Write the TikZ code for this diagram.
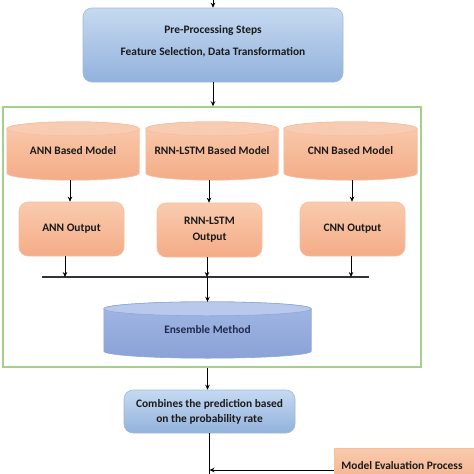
\documentclass[tikz,border=0pt]{standalone}
\usepackage{fontspec}
\setmainfont{Carlito}
\usetikzlibrary{arrows.meta,calc,backgrounds}
\definecolor{bl1}{HTML}{C6D9F1}
\definecolor{bl2}{HTML}{92B2DC}
\definecolor{bl3}{HTML}{9DB8DD}
\definecolor{or1}{HTML}{F9CBAE}
\definecolor{or2}{HTML}{F4AC86}
\definecolor{or3}{HTML}{F6BE9F}
\definecolor{orcap}{HTML}{F8CCB2}
\definecolor{en1}{HTML}{A2B7E3}
\definecolor{en2}{HTML}{8AA2D7}
\definecolor{encap}{HTML}{B8C9EC}
\definecolor{en3}{HTML}{90A7D9}
\definecolor{entxt}{HTML}{1F2A4D}
\definecolor{grn}{HTML}{A5D08A}
\definecolor{txtc}{HTML}{1A1A1A}
\newcommand{\drawcyl}[6]{%
  \path let \p1=(#1.north west), \p2=(#1.south east), \n1={(\x2-\x1)/2} in
    [top color=#3, bottom color=#4, draw=#6, line width=0.6pt]
    (\x1,\y1-#2pt) -- (\x1,\y2+#2pt)
    arc[start angle=180,end angle=360,x radius={\n1*1pt},y radius=#2pt]
    -- (\x2,\y1-#2pt)
    arc[start angle=0,end angle=180,x radius={\n1*1pt},y radius=#2pt] -- cycle;
  \path let \p1=(#1.north west), \p2=(#1.south east), \n1={(\x2-\x1)/2} in
    [fill=#5, draw=#6, line width=0.6pt]
    (\x1+\n1*1pt,\y1-#2pt) ellipse[x radius={\n1*1pt},y radius=#2pt];
}
\begin{document}
\begin{tikzpicture}[x=1pt,y=-1pt,
  txt/.style={font=\fontsize{11.4}{13.6}\selectfont\bfseries, text=txtc, align=center, inner sep=0pt},
  rbox/.style={rounded corners=9pt, inner sep=0pt},
  bluebox/.style={rbox, top color=bl1, bottom color=bl2, draw=bl3, line width=0.6pt},
  orbox/.style={rbox, top color=or1, bottom color=or2, draw=or3, line width=0.6pt},
  cylbox/.style={txt, minimum width=132pt, minimum height=58pt},
  outbox/.style={orbox, txt, minimum width=105pt, minimum height=54pt},
  arr/.style={-{Stealth[length=5pt,width=4.5pt]}, line width=0.8pt, draw=black},
  busline/.style={line width=1.1pt, draw=black!80},
  plain/.style={line width=0.9pt, draw=black}
]
\useasboundingbox (0,0) rectangle (474,474);

% top
\coordinate (src) at (213,-2);
\node[bluebox, minimum width=260pt, minimum height=74pt] (pre) at (213,45) {};
\node[txt, font=\fontsize{11.4}{22}\selectfont\bfseries] (pretxt) at (213,41)
  {Pre-Processing Steps\\Feature Selection, Data Transformation};
\draw[arr] (src) -- (pre.north);

% group frame
\node[draw=grn, line width=1.5pt, minimum width=418pt, minimum height=260pt, inner sep=0pt] (grp) at (212,237) {};
\draw[arr] (pre.south) -- (pre.south |- grp.north);

% cylinders
\node[cylbox] (ann) at (73,151) {ANN Based Model};
\node[cylbox] (rnn) at (212,151) {RNN-LSTM Based Model};
\node[cylbox, minimum width=133pt] (cnn) at (350.5,151) {CNN Based Model};
\begin{pgfonlayer}{background}
  \drawcyl{ann}{7}{or1}{or2}{orcap}{or3}
  \drawcyl{rnn}{7}{or1}{or2}{orcap}{or3}
  \drawcyl{cnn}{7}{or1}{or2}{orcap}{or3}
\end{pgfonlayer}

% outputs
\node[outbox] (annout) at (71.5,229) {ANN Output};
\node[outbox, font=\fontsize{11.4}{16}\selectfont\bfseries] (rnnout) at (209.5,230) {RNN-LSTM\\Output};
\node[outbox] (cnnout) at (352.5,229) {CNN Output};

\draw[arr] ([xshift=-3pt]ann.south) -- ([xshift=-3pt]ann.south |- annout.north);
\draw[arr] ([xshift=-3pt]rnn.south) -- ([xshift=-3pt]rnn.south |- rnnout.north);
\draw[arr] ([xshift=1.5pt]cnn.south) -- ([xshift=1.5pt]cnn.south |- cnnout.north);

% bus
\coordinate (busL) at (42,277);
\coordinate (busR) at (369,277);
\draw[busline] (busL) -- (busR);
\draw[arr] ([xshift=-6.5pt]annout.south) -- ([xshift=-6.5pt]annout.south |- busL);
\draw[arr] ([xshift=-2.5pt]rnnout.south) -- ([xshift=-2.5pt]rnnout.south |- busL);
\draw[arr] ([xshift=-1.5pt]cnnout.south) -- ([xshift=-1.5pt]cnnout.south |- busL);

% ensemble
\node[txt, text=entxt, minimum width=207pt, minimum height=56pt] (ens) at (207.5,330) {Ensemble Method};
\begin{pgfonlayer}{background}
  \drawcyl{ens}{7}{en1}{en2}{encap}{en3}
\end{pgfonlayer}
\draw[arr] (ens.north |- busL) -- (ens.north);

% combine
\node[bluebox, txt, minimum width=171pt, minimum height=43pt, font=\fontsize{11.4}{15}\selectfont\bfseries] (comb) at (209.5,411.5)
  {Combines the prediction based\\on the probability rate};
\draw[arr] (ens.south |- grp.south) -- (ens.south |- comb.north);

\coordinate (bot) at (210,478);
\draw[plain] (comb.south) -- (comb.south |- bot);

% evaluation
\node[rectangle, top color=or1, bottom color=or2, draw=or3, line width=0.6pt, minimum width=146pt, minimum height=40pt, inner sep=0pt] (eval) at (407,468) {};
\node[txt] (evaltxt) at (402,466) {Model Evaluation Process};
\coordinate (evalarr) at ([yshift=-2pt]eval.west);
\draw[arr] (evalarr) -- (comb.south |- evalarr);
\end{tikzpicture}
\end{document}
